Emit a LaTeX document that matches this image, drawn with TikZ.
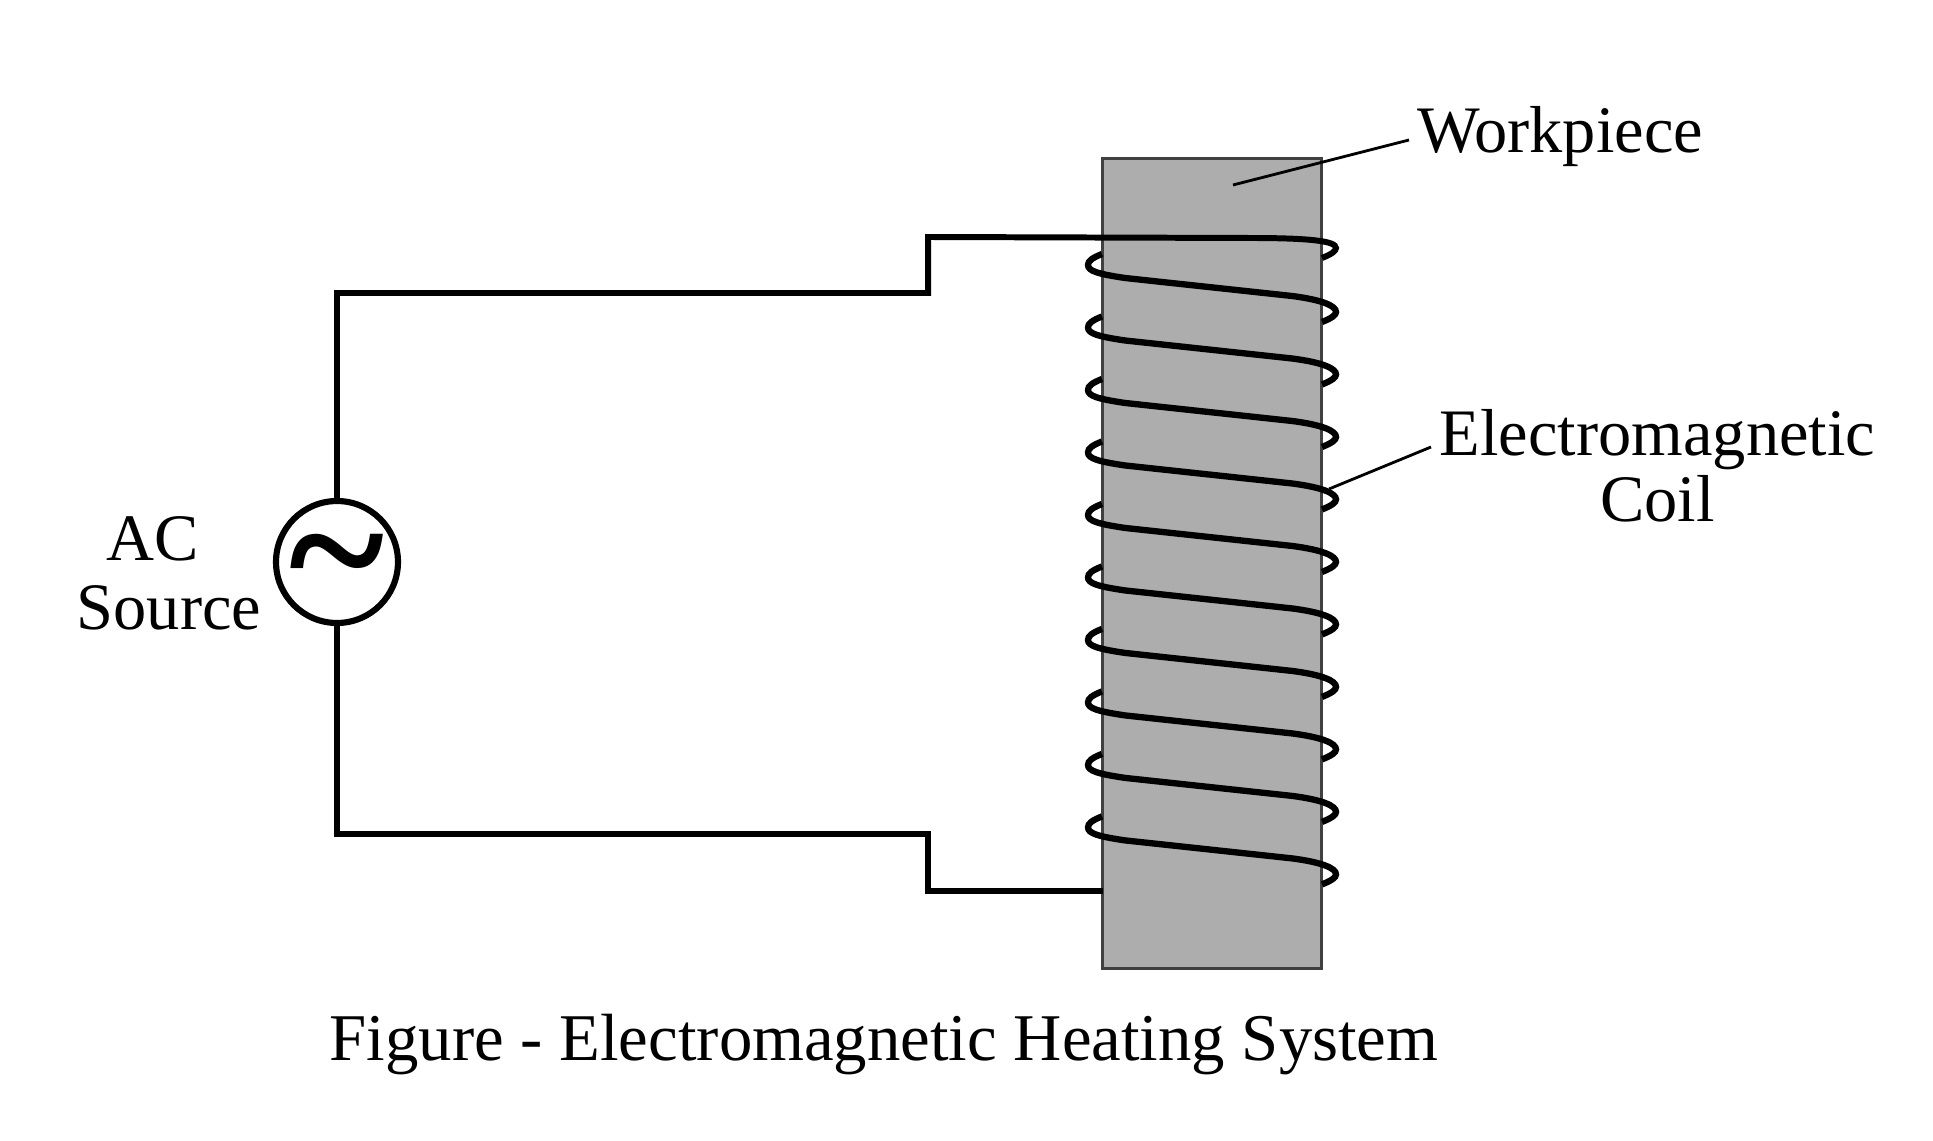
\documentclass[tikz,border=0pt]{standalone}
\usepackage{fontspec}
\setmainfont{Liberation Serif}
\tikzstyle{piece} = [rectangle, minimum width=4.38cm, minimum height=16.22cm, inner sep=0pt, draw=black!75, line width=1.7pt, fill=black!32]
\tikzstyle{supply} = [circle, minimum size=2.44cm, inner sep=0pt, draw=black, line width=3.5pt]
\tikzstyle{wire} = [line width=3.4pt, black]
\tikzstyle{turn} = [line width=3.6pt, black]
\tikzstyle{leader} = [line width=1.6pt, black]
\tikzstyle{caption} = [anchor=base, inner sep=0pt, font=\fontsize{37.8}{37.8}\selectfont]
\tikzstyle{title} = [anchor=base, inner sep=0pt, font=\fontsize{38}{38}\selectfont]

\begin{document}
\begin{tikzpicture}[x=0.02cm, y=-0.02cm]
    \useasboundingbox (0,0) rectangle (1933,1141);

    %Main Nodes
    \node (workpiece) [piece] at (1212,563.5) {};
    \node (source) [supply] at (337,562) {\smash{\raisebox{-28pt}{\fontsize{104}{104}\selectfont\bfseries\char"007E}}};

    %Labels
    \node (workLabel) [caption] at (1560,152.5) {Workpiece};
    \node (coilLabelA) [caption] at (1657.5,456) {Electromagnetic};
    \node (coilLabelB) [caption] at (1657.5,522) {Coil};
    \node (acLabel) [caption] at (153,561) {AC};
    \node (sourceLabel) [caption] at (169,629) {Source};
    \node (figLabel) [title] at (884,1060) {Figure - Electromagnetic Heating System};

    %Corners of the wires
    \coordinate (topStep) at (928,293);
    \coordinate (topRun) at (928,237);
    \coordinate (botStep) at (928,834);
    \coordinate (botRun) at (928,891);
    \coordinate (coilEnd) at (1103,891);
    \coordinate (workTip) at (1233,185);
    \coordinate (workEnd) at (1409,140);
    \coordinate (coilTip) at (1329,489);
    \coordinate (coilEnd2) at (1431,447);

    %Wires
    \draw [wire] (source.north) |- (topStep) -- (topRun) -- (1250,238)
        .. controls (1310,238) and (1336,241) .. (1336,248)
        .. controls (1336,251) and (1332,254) .. (1322,258);
    \draw [wire] (source.south) |- (botStep) -- (botRun) -- (coilEnd);

    %Coil turns
    \foreach \i in {0,...,9}
        \draw [turn, yshift=\i*-1.25cm] (1102,254)
            .. controls (1092,258) and (1088,261) .. (1088,265)
            .. controls (1088,271) and (1098,274) .. (1125,278)
            -- (1292,296)
            .. controls (1323,300) and (1336,306) .. (1336,312)
            .. controls (1336,315) and (1332,318) .. (1322,322);

    %Leaders
    \draw [leader] (workTip) -- (workEnd);
    \draw [leader] (coilTip) -- (coilEnd2);
\end{tikzpicture}
\end{document}
